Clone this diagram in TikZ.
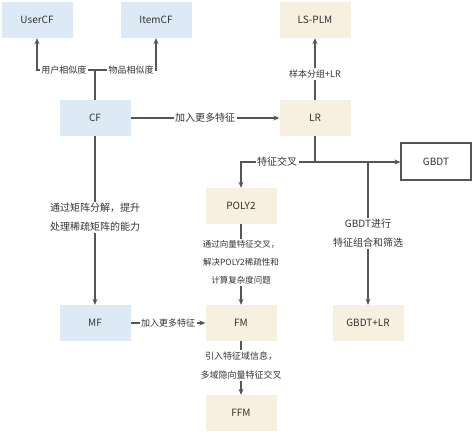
\documentclass[tikz,border=0pt]{standalone}
\usepackage{fontspec}
\setmainfont{Noto Sans CJK SC}
\usetikzlibrary{arrows.meta}
\definecolor{bluebox}{HTML}{DDEAF6}
\definecolor{beigebox}{HTML}{F7EFDF}
\definecolor{txt}{HTML}{333333}
\definecolor{ln}{HTML}{555555}
\begin{document}
\begin{tikzpicture}[x=1pt,y=-1pt,
  box/.style={minimum width=71pt, minimum height=36pt, inner sep=0pt, text=txt, font=\fontsize{10}{12}\selectfont},
  bluenode/.style={box, fill=bluebox},
  beigenode/.style={box, fill=beigebox},
  conn/.style={draw=ln, line width=1.2pt},
  arr/.style={conn, -{Stealth[length=6pt,width=5pt]}},
  lbl/.style={fill=white, text=txt, inner sep=1.5pt, font=\fontsize{9}{19}\selectfont, align=center},
  lblbig/.style={lbl, font=\fontsize{10}{19}\selectfont},
  lblsmall/.style={lbl, font=\fontsize{8.5}{18}\selectfont}
]
\useasboundingbox[fill=white] (0,0) rectangle (474,434);
\node[bluenode] (usercf) at (37,20) {UserCF};
\node[bluenode] (itemcf) at (156,20) {ItemCF};
\node[bluenode] (cf) at (95,118) {CF};
\node[beigenode] (lsplm) at (315,20) {LS-PLM};
\node[beigenode] (lr) at (315,118) {LR};
\node[box, draw=ln, line width=1.2pt, fill=white, minimum width=70pt, minimum height=37pt] (gbdt) at (436,161.5) {GBDT};
\node[beigenode] (poly2) at (241,206) {POLY2};
\node[bluenode] (mf) at (95,323) {MF};
\node[beigenode] (fm) at (241,323) {FM};
\node[beigenode] (ffm) at (241,413) {FFM};
\node[beigenode] (gbdtlr) at (368,323) {GBDT+LR};

\coordinate (j1) at (95,70);
\draw[conn] (cf.north) -- (j1);
\draw[arr] (j1) -| (usercf.south);
\draw[arr] (j1) -| (itemcf.south);
\node[lbl] (l1) at (64,70) {用户相似度};
\node[lbl] (l2) at (131,70) {物品相似度};

\draw[arr] (cf.east) -- (lr.west) node[lblbig, midway] (l3) {加入更多特征};
\draw[arr] (lr.north) -- (lsplm.south) node[lbl, pos=0.42] (l4) {样本分组+LR};

\coordinate (j2) at (315,162);
\coordinate (j3) at (368,162);
\draw[conn] (lr.south) -- (j2);
\draw[arr] (j2) -- (gbdt.west |- j2);
\draw[arr] (j2) -| (poly2.north);
\node[lblbig] (l5) at (277,162) {特征交叉};
\draw[arr] (j3) -- (gbdtlr.north) node[lblbig, midway] (l6) {GBDT进行\\特征组合和筛选};

\draw[arr] (cf.south) -- (mf.north) node[lblbig, pos=0.48] (l7) {通过矩阵分解，提升\\处理稀疏矩阵的能力};
\draw[arr] (poly2.south) -- (fm.north) node[lblsmall, pos=0.47] (l8) {通过向量特征交叉，\\解决POLY2稀疏性和\\计算复杂度问题};
\draw[arr] (mf.east) -- (fm.west) node[lbl, midway] (l9) {加入更多特征};
\draw[arr] (fm.south) -- (ffm.north) node[lbl, pos=0.45] (l10) {引入特征域信息，\\多域隐向量特征交叉};
\end{tikzpicture}
\end{document}
